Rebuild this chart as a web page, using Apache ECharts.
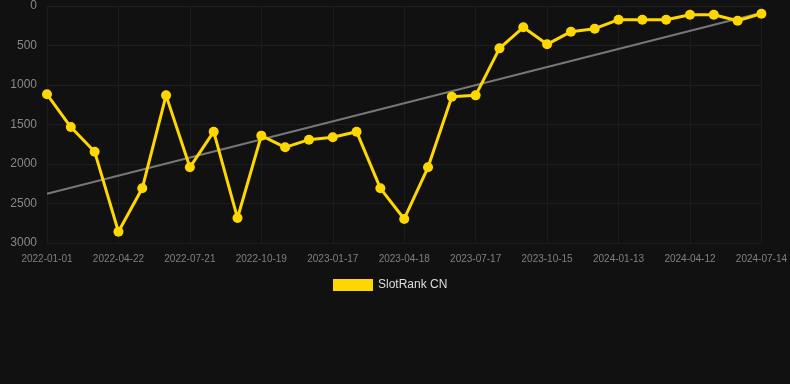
<!DOCTYPE html>
<html>
<head>
<meta charset="utf-8">
<script src="https://cdn.jsdelivr.net/npm/echarts@6/dist/echarts.min.js"></script>
<style>
html,body{margin:0;padding:0;background:#111111;}
#chart{width:790px;height:384px;}
</style>
</head>
<body>
<div id="chart"></div>
<script>
var categories = [
  "2022-01-01","2022-02-21","2022-03-23","2022-04-22","2022-05-22","2022-06-21",
  "2022-07-21","2022-08-20","2022-09-19","2022-10-19","2022-11-18","2022-12-18",
  "2023-01-17","2023-02-16","2023-03-18","2023-04-18","2023-05-18","2023-06-17",
  "2023-07-17","2023-08-16","2023-09-15","2023-10-15","2023-11-14","2023-12-14",
  "2024-01-13","2024-02-12","2024-03-13","2024-04-12","2024-05-12","2024-06-11",
  "2024-07-14"
];
var rankValues = [
  1118, 1532, 1844, 2857, 2308, 1131, 2042, 1591, 2684, 1641, 1789, 1692,
  1662, 1591, 2308, 2696, 2042, 1148, 1131, 536, 270, 485, 325, 287,
  173, 173, 173, 110, 110, 186, 97
];
var trendStart = 2376;
var trendEnd = 85;
var yTicks = [0, 500, 1000, 1500, 2000, 2500, 3000];

var trendData = categories.map(function (c, i) {
  if (i === 0) return trendStart;
  if (i === categories.length - 1) return trendEnd;
  return null;
});

var chart = echarts.init(document.getElementById('chart'), null, {renderer: 'canvas'});
chart.setOption({
  backgroundColor: '#111111',
  animation: false,
  grid: {left: 47, right: 28, top: 6, bottom: 141, containLabel: false},
  legend: {
    data: ['SlotRank CN'],
    top: 274,
    left: 328,
    itemWidth: 40,
    itemHeight: 12,
    icon: 'rect',
    textStyle: {color: '#dddddd', fontSize: 12, fontFamily: 'Arial, Liberation Sans, sans-serif'}
  },
  xAxis: {
    type: 'category',
    data: categories,
    boundaryGap: false,
    axisLine: {show: false},
    axisTick: {show: false},
    axisLabel: {
      interval: 2,
      color: '#808080',
      fontSize: 10,
      margin: 11,
      fontFamily: 'Arial, Liberation Sans, sans-serif'
    },
    splitLine: {show: true, interval: 2, lineStyle: {color: '#1c1c1c', width: 1}}
  },
  yAxis: {
    type: 'value',
    inverse: true,
    min: yTicks[0],
    max: yTicks[yTicks.length - 1],
    interval: yTicks[1] - yTicks[0],
    axisLine: {show: false},
    axisTick: {show: false},
    axisLabel: {
      color: '#888888', fontSize: 12, margin: 10,
      fontFamily: 'Arial, Liberation Sans, sans-serif',
      formatter: function (v) { return String(v); }
    },
    splitLine: {lineStyle: {color: '#1e1e1e', width: 1}}
  },
  series: [
    {
      name: 'Trend',
      type: 'line',
      data: trendData,
      connectNulls: true,
      symbol: 'none',
      silent: true,
      lineStyle: {color: '#777777', width: 2},
      z: 1
    },
    {
      name: 'SlotRank CN',
      type: 'line',
      data: rankValues,
      symbol: 'circle',
      symbolSize: 10,
      itemStyle: {color: '#FFD700'},
      lineStyle: {color: '#FFD700', width: 3},
      z: 2
    }
  ]
});
</script>
</body>
</html>
